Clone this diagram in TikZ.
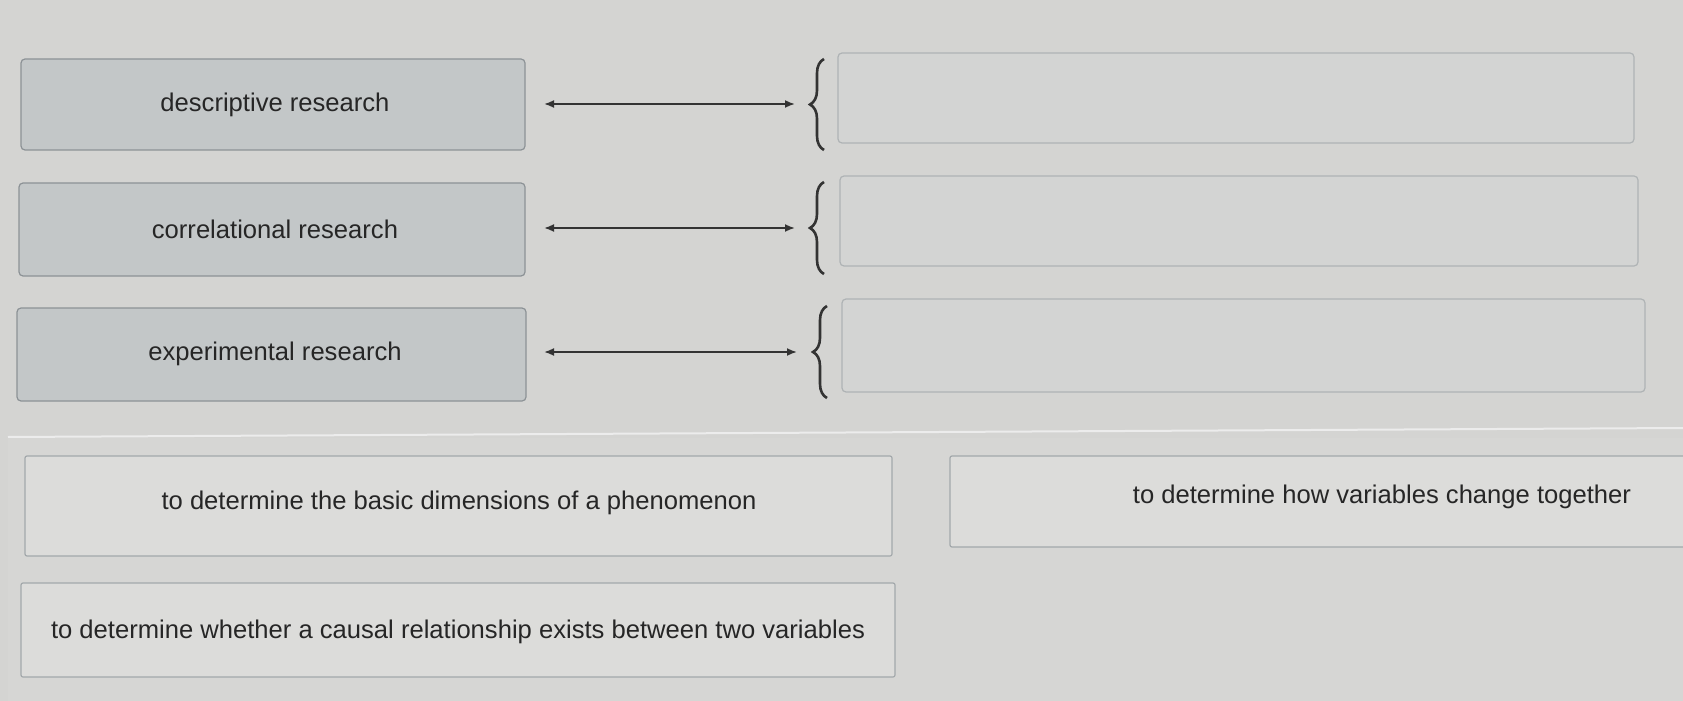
\documentclass[tikz,border=0pt]{standalone}
\usepackage{fontspec}
\setmainfont{Liberation Sans}
\usetikzlibrary{arrows.meta,decorations.pathreplacing}
\definecolor{bg}{HTML}{D4D4D2}
\definecolor{lbox}{HTML}{C3C7C8}
\definecolor{rbox}{HTML}{D3D4D3}
\definecolor{wbox}{HTML}{DCDCDA}
\definecolor{edge}{HTML}{8C9296}
\tikzset{
 lft/.style={draw=edge,fill=lbox,rounded corners=2pt,line width=0.6pt},
 rgt/.style={draw=edge!70,fill=rbox,rounded corners=2pt,line width=0.6pt},
 opt/.style={draw=edge!80,fill=wbox,rounded corners=1pt,line width=0.6pt},
 lbl/.style={font=\fontsize{12.8}{15}\selectfont,text=black!85},
 link/.style={{Latex[length=5pt,width=4pt]}-{Latex[length=5pt,width=4pt]},line width=0.9pt,draw=black!80},
 brc/.style={decorate,decoration={brace,amplitude=7pt},line width=1.3pt,draw=black!80}
}
\begin{document}
\begin{tikzpicture}[x=0.5pt,y=-0.5pt]
\fill[bg] (0,0) rectangle (1683,701);
\useasboundingbox (0,0) rectangle (1683,701);
\draw[lft] (21,59) rectangle (525,150);
\node[lbl] (l1) at (275,105) {descriptive research};
\draw[lft] (19,183) rectangle (525,276);
\node[lbl] (l2) at (275,229) {correlational research};
\draw[lft] (17,308) rectangle (526,401);
\node[lbl] (l3) at (275,354) {experimental research};
\coordinate (a1) at (544,104); \coordinate (b1) at (795,104);
\coordinate (a2) at (544,228); \coordinate (b2) at (795,228);
\coordinate (a3) at (544,352); \coordinate (b3) at (797,352);
\draw[link] (a1) -- (b1);
\draw[link] (a2) -- (b2);
\draw[link] (a3) -- (b3);
\coordinate (p1) at (824,150); \coordinate (q1) at (824,59);
\coordinate (p2) at (824,274); \coordinate (q2) at (824,182);
\coordinate (p3) at (827,398); \coordinate (q3) at (827,306);
\draw[brc] (p1) -- (q1);
\draw[brc] (p2) -- (q2);
\draw[brc] (p3) -- (q3);
\draw[rgt] (838,53) rectangle (1634,143);
\draw[rgt] (840,176) rectangle (1638,266);
\draw[rgt] (842,299) rectangle (1645,392);
\draw[white!85!gray,line width=1pt] (8,437) -- (1683,428);
\fill[bg!95!white] (8,438) rectangle (1683,701);
\draw[opt] (25,456) rectangle (892,556);
\node[lbl] (o1) at (459,503) {to determine the basic dimensions of a phenomenon};
\draw[opt] (950,456) rectangle (1690,547);
\node[lbl] (o2) at (1382,497) {to determine how variables change together};
\draw[opt] (21,583) rectangle (895,677);
\node[lbl] (o3) at (458,632) {to determine whether a causal relationship exists between two variables};
\end{tikzpicture}
\end{document}
